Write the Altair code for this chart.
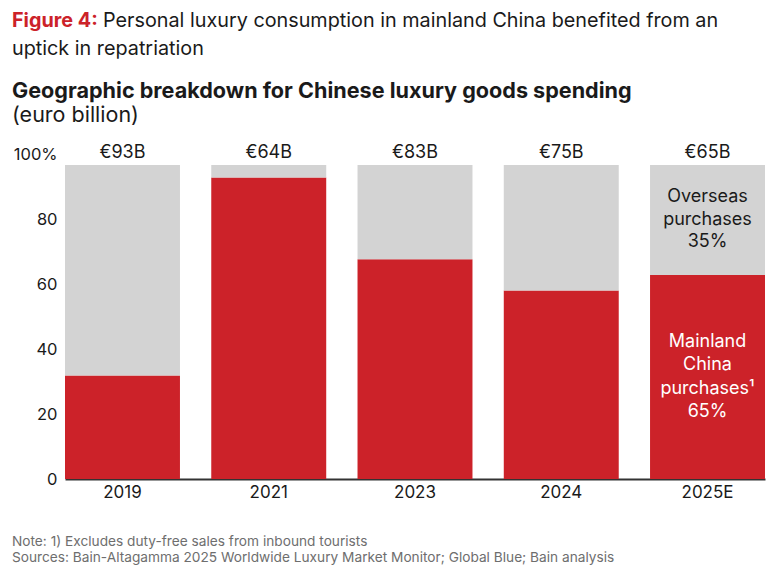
import altair as alt
import pandas as pd

# Chinese luxury spending: share bought in mainland China vs overseas
years = ["2019", "2021", "2023", "2024", "2025E"]
mainland_share = [33, 96, 70, 60, 65]
overseas_share = [67, 4, 30, 40, 35]
total_spend_bn = [93, 64, 83, 75, 65]
axis_ticks = [0, 20, 40, 60, 80, 100]

RED = "#CC2229"
GREY = "#D3D3D3"
INK = "#1A1A1A"
FONT = "Inter"

# stacked segments (mainland at the bottom, overseas on top)
rows = []
for yr, m, o in zip(years, mainland_share, overseas_share):
    rows.append({"year": yr, "segment": "Mainland China", "y0": 0, "y1": m, "mid": m / 2})
    rows.append({"year": yr, "segment": "Overseas", "y0": m, "y1": m + o, "mid": m + o / 2})
seg = pd.DataFrame(rows)

totals = pd.DataFrame({"year": years, "label": [f"€{v}B" for v in total_spend_bn]})

last = years[-1]
notes = pd.DataFrame([
    {"year": last, "mid": mainland_share[-1] + overseas_share[-1] / 2,
     "txt": f"Overseas\npurchases\n{overseas_share[-1]}%", "kind": "over"},
    {"year": last, "mid": mainland_share[-1] / 2,
     "txt": f"Mainland\nChina\npurchases¹\n{mainland_share[-1]}%", "kind": "main"},
])

bar_scale = alt.Scale(domain=[0, 100], range=[325, 11])
x_enc = alt.X(
    "year:N", sort=years, title=None,
    scale=alt.Scale(paddingInner=0.214, paddingOuter=0),
    axis=alt.Axis(labelAngle=0, ticks=False, domainColor="#333333", domainWidth=2,
                  labelFontSize=17, labelColor=INK, labelFont=FONT, labelPadding=5),
)

bars = alt.Chart(seg).mark_bar().encode(
    x=x_enc,
    y=alt.Y("y0:Q", scale=bar_scale, axis=None),
    y2="y1:Q",
    color=alt.Color("segment:N", scale=alt.Scale(domain=["Mainland China", "Overseas"],
                                                 range=[RED, GREY]), legend=None),
)

total_text = alt.Chart(totals).mark_text(
    font=FONT, fontSize=18, color=INK, dy=-12, baseline="middle"
).encode(x=alt.X("year:N", sort=years), y=alt.datum(100), text="label:N")

# multi-line labels: shift up by half the block so it centres on the segment
over_text = alt.Chart(notes).transform_filter("datum.kind == 'over'").mark_text(
    font=FONT, fontSize=18, color=INK, lineBreak="\n", lineHeight=22.5,
    baseline="middle", dy=-22.5
).encode(x=alt.X("year:N", sort=years), y=alt.Y("mid:Q", scale=bar_scale), text="txt:N")

main_text = alt.Chart(notes).transform_filter("datum.kind == 'main'").mark_text(
    font=FONT, fontSize=18, color="white", lineBreak="\n", lineHeight=23.3,
    baseline="middle", dy=-35
).encode(x=alt.X("year:N", sort=years), y=alt.Y("mid:Q", scale=bar_scale), text="txt:N")

plot = alt.layer(bars, total_text, over_text, main_text)

# percent axis drawn on its own full-height scale
axis_df = pd.DataFrame({"v": axis_ticks})
pct_axis = alt.Chart(axis_df).mark_point(opacity=0).encode(
    y=alt.Y("v:Q", scale=alt.Scale(domain=[0, 100]), title=None,
            axis=alt.Axis(orient="left", values=axis_ticks, domain=False, ticks=False,
                          grid=False, labelFontSize=16.5, labelColor=INK, labelFont=FONT,
                          labelPadding=8,
                          labelExpr="datum.value == 100 ? '100%' : datum.label")),
)


def caption(text, x, y, size, color=INK, weight="normal"):
    return alt.Chart(pd.DataFrame({"t": [text]})).mark_text(
        align="left", baseline="alphabetic", font=FONT, fontSize=size,
        color=color, fontWeight=weight,
    ).encode(x=alt.value(x), y=alt.value(y), text="t:N")


header = [
    caption("Figure 4:", -53, -127, 19.8, RED, "bold"),
    caption("Personal luxury consumption in mainland China benefited from an", 38, -127, 19.8),
    caption("uptick in repatriation", -53, -99, 19.8),
    caption("Geographic breakdown for Chinese luxury goods spending", -53, -56, 21.6, INK, "bold"),
    caption("(euro billion)", -53, -32, 21.5),
    caption("Note: 1) Excludes duty-free sales from inbound tourists", -53, 392, 13.7, "#6E6E6E"),
    caption("Sources: Bain-Altagamma 2025 Worldwide Luxury Market Monitor; Global Blue; Bain analysis",
            -53, 408, 13.7, "#6E6E6E"),
]

chart = alt.layer(pct_axis, plot, *header).resolve_scale(y="independent").properties(
    width=700, height=325,
    autosize=alt.AutoSizeParams(type="none"),
    padding={"left": 65, "top": 154, "right": 19, "bottom": 98},
    background="white",
).configure_view(stroke=None)

chart.save("out.html", embed_options={"renderer": "svg", "actions": False})
